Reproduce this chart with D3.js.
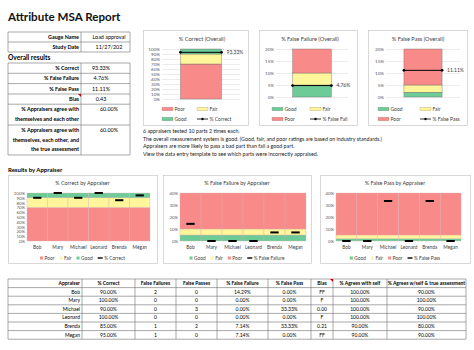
<!DOCTYPE html>
<html>
<head>
<meta charset="utf-8">
<script src="https://cdn.jsdelivr.net/npm/d3@7"></script>
<style>
  body { margin: 0; background: #fff; }
  svg { display: block; font-family: Lato, "Open Sans", sans-serif; }
</style>
</head>
<body>
<div id="report"></div>
<script>
// ---- data ----
const gaugeLabels = ["Gauge Name", "Study Date"];
const gaugeValues = ["Load approval", "11/27/202"];

const overallLabels = [
  ["% Correct"], ["% False Failure"], ["% False Pass"], ["Bias"],
  ["% Appraisers agree with", "themselves and each other"],
  ["% Appraisers agree with", "themselves, each other, and", "the true assessment"]
];
const overallValues = ["93.33%", "4.76%", "11.11%", "0.43", "60.00%", "60.00%"];

const overallCorrect = 93.33;
const overallFalseFail = 4.76;
const overallFalsePass = 11.11;

// rating bands [rating, from, to]
const correctBands = [["Poor", 0, 70], ["Fair", 70, 90], ["Good", 90, 100]];
const falseFailBands = [["Good", 0, 5], ["Fair", 5, 10], ["Poor", 10, 20]];
const falsePassBands = [["Good", 0, 2], ["Fair", 2, 5], ["Poor", 5, 20]];
const falseFailBandsApp = [["Good", 0, 5], ["Fair", 5, 10], ["Poor", 10, 40]];
const falsePassBandsApp = [["Good", 0, 2], ["Fair", 2, 5], ["Poor", 5, 40]];

const summaryNotes = [
  "6 appraisers tested 10 parts 2 times each.",
  "The overall measurement system is good. (Good, fair, and poor ratings are based on industry standards.)",
  "Appraisers are more likely to pass a bad part than fail a good part.",
  "View the data entry template to see which parts were incorrectly appraised."
];

const appraisers = ["Bob", "Mary", "Michael", "Leonard", "Brenda", "Megan"];
const pctCorrect = [90, 100, 90, 100, 85, 95];
const falseFailures = [2, 0, 0, 0, 1, 1];
const falsePasses = [0, 0, 3, 0, 2, 0];
const pctFalseFailure = [14.29, 0, 0, 0, 7.14, 7.14];
const pctFalsePass = [0, 0, 33.33, 0, 33.33, 0];
const biasValues = ["FF", "F", "0.00", "F", "0.21", "FF"];
const agreeSelf = [100, 100, 100, 100, 90, 90];
const agreeTrue = [90, 100, 90, 100, 80, 90];

const tableHeaders = ["Appraiser", "% Correct", "False Failures", "False Passes", "% False Failure",
  "% False Pass", "Bias", "% Agrees with self", "% Agrees w/self & true assessment"];

const colors = { Poor: "#F98A8A", Fair: "#FFF59A", Good: "#6DCB98" };
const pct = v => d3.format(".2f")(v) + "%";

const svg = d3.select("#report").append("svg")
  .attr("width", 474).attr("height", 350);
svg.append("rect").attr("width", 474).attr("height", 350).attr("fill", "#fff");

// ---- header + summary tables ----
svg.append("text").attr("x", 8).attr("y", 21)
  .attr("font-size", 11.6).attr("font-weight", "bold").attr("fill", "#111")
  .text("Attribute MSA Report");

function gridTable(x0, x1, xs, ys) {
  const g = svg.append("g").attr("stroke", "#6e6e6e").attr("stroke-width", 0.6);
  ys.forEach(y => g.append("line").attr("x1", x0).attr("x2", x1).attr("y1", y).attr("y2", y));
  xs.forEach(x => g.append("line").attr("x1", x).attr("x2", x).attr("y1", ys[0]).attr("y2", ys[ys.length - 1]));
}

gridTable(8, 130, [8, 81, 130], [32, 42, 52]);
gaugeLabels.forEach((t, i) => {
  svg.append("text").attr("x", 79).attr("y", 39 + i * 10).attr("text-anchor", "end")
    .attr("font-size", 5.4).attr("font-weight", "bold").text(t);
  svg.append("text").attr("x", 109).attr("y", 39 + i * 10).attr("text-anchor", "middle")
    .attr("font-size", 5.4).text(gaugeValues[i]);
});

svg.append("text").attr("x", 8).attr("y", 59.5)
  .attr("font-size", 6.6).attr("font-weight", "bold").text("Overall results");

const rowTops = [63, 73.3, 83.6, 94, 104.2, 125, 155];
gridTable(8, 130, [8, 81, 130], rowTops);
overallLabels.forEach((lines, i) => {
  lines.forEach((t, j) => {
    svg.append("text").attr("x", 79).attr("y", rowTops[i] + 7 + j * 9.5).attr("text-anchor", "end")
      .attr("font-size", 5.4).attr("font-weight", "bold").text(t);
  });
  svg.append("text").attr("x", i < 4 ? 101 : 109).attr("y", rowTops[i] + 7).attr("text-anchor", "middle")
    .attr("font-size", 5.4).text(overallValues[i]);
});
svg.append("path").attr("d", "M78,94 L81,94 L81,97 Z").attr("fill", "#c00000");

// ---- overall charts ----
function overallChart(o) {
  const g = svg.append("g");
  g.append("rect").attr("x", o.box[0] + 0.5).attr("y", o.box[1] + 0.5)
    .attr("width", o.box[2] - o.box[0]).attr("height", o.box[3] - o.box[1])
    .attr("fill", "#fff").attr("stroke", "#cfcfcf").attr("stroke-width", 0.8);
  g.append("text").attr("x", o.titleX).attr("y", 41).attr("text-anchor", "middle")
    .attr("font-size", 5.6).attr("fill", "#404040").text(o.title);

  const y = d3.scaleLinear().domain([0, o.max]).range([o.yBot, o.yTop]);
  const x = d3.scaleBand().domain(["overall"]).range([o.x0, o.x1]).padding(o.pad);

  g.append("g").attr("transform", `translate(${o.x0},0)`)
    .call(d3.axisLeft(y).tickValues(d3.range(0, o.max + o.step / 2, o.step))
      .tickSize(-(o.x1 - o.x0)).tickPadding(2).tickFormat(d => d + "%"))
    .call(a => {
      a.attr("font-size", 4.6).attr("font-family", null);
      a.select(".domain").remove();
      a.selectAll("line").attr("stroke", "#d9d9d9").attr("stroke-width", 0.5);
      a.selectAll("text").attr("fill", "#595959");
    });

  g.selectAll(".band").data(o.bands).join("rect")
    .attr("x", x("overall")).attr("width", x.bandwidth())
    .attr("y", d => y(d[2])).attr("height", d => y(d[1]) - y(d[2]))
    .attr("fill", d => colors[d[0]]).attr("stroke", "#6b6b6b").attr("stroke-width", 0.4);

  const vy = y(o.value);
  const ends = [x("overall"), x("overall") + x.bandwidth()];
  g.append("line").attr("x1", ends[0]).attr("x2", ends[1]).attr("y1", vy).attr("y2", vy)
    .attr("stroke", "#000").attr("stroke-width", 1);
  g.selectAll(".mk").data(ends).join("circle").attr("cx", d => d).attr("cy", vy)
    .attr("r", 1.4).attr("fill", "#000");
  g.append("text").attr("x", ends[1] + 5).attr("y", vy + 1.8)
    .attr("font-size", 5).attr("fill", "#404040").text(pct(o.value));

  // legend 2 x 2
  o.legend.forEach((name, i) => {
    const lx = o.legendX[i % 2], ly = [109, 119][Math.floor(i / 2)];
    if (colors[name]) {
      g.append("rect").attr("x", lx).attr("y", ly - 1.8).attr("width", 11).attr("height", 3.6)
        .attr("fill", colors[name]).attr("stroke", "#8a8a8a").attr("stroke-width", 0.3);
    } else {
      g.append("line").attr("x1", lx).attr("x2", lx + 11).attr("y1", ly).attr("y2", ly)
        .attr("stroke", "#000").attr("stroke-width", 0.8);
      g.append("circle").attr("cx", lx + 5.5).attr("cy", ly).attr("r", 1.2).attr("fill", "#000");
    }
    g.append("text").attr("x", lx + 12.5).attr("y", ly + 1.8)
      .attr("font-size", 5).attr("fill", "#404040").text(name);
  });
}

overallChart({
  box: [143, 30, 248, 125], title: "% Correct (Overall)", titleX: 202,
  x0: 162, x1: 240, yTop: 49, yBot: 99, max: 100, step: 10, pad: 0.31,
  bands: correctBands, value: overallCorrect,
  legend: ["Poor", "Fair", "Good", "% Correct"], legendX: [162, 197]
});
overallChart({
  box: [259, 30, 357, 125], title: "% False Failure (Overall)", titleX: 310,
  x0: 276, x1: 348, yTop: 49, yBot: 97, max: 20, step: 5, pad: 0.3,
  bands: falseFailBands, value: overallFalseFail,
  legend: ["Good", "Fair", "Poor", "% False Fail"], legendX: [272, 310]
});
overallChart({
  box: [368, 30, 467, 125], title: "% False Pass (Overall)", titleX: 418,
  x0: 386, x1: 460, yTop: 49, yBot: 97, max: 20, step: 5, pad: 0.32,
  bands: falsePassBands, value: overallFalsePass,
  legend: ["Good", "Fair", "Poor", "% False Pass"], legendX: [378, 420]
});

// summary notes
summaryNotes.forEach((t, i) => {
  svg.append("text").attr("x", 143).attr("y", 133 + i * 7.6)
    .attr("font-size", 5.3).attr("fill", "#222").text(t);
});

// ---- by appraiser charts ----
svg.append("text").attr("x", 8).attr("y", 172)
  .attr("font-size", 6).attr("font-weight", "bold").text("Results by Appraiser");

function appraiserChart(o) {
  const g = svg.append("g");
  g.append("rect").attr("x", o.box[0] + 0.5).attr("y", o.box[1] + 0.5)
    .attr("width", o.box[2] - o.box[0]).attr("height", o.box[3] - o.box[1])
    .attr("fill", "#fff").attr("stroke", "#cfcfcf").attr("stroke-width", 0.8);
  g.append("text").attr("x", (o.box[0] + o.box[2]) / 2).attr("y", 185).attr("text-anchor", "middle")
    .attr("font-size", 5.4).attr("fill", "#404040").text(o.title);

  const y = d3.scaleLinear().domain([0, o.max]).range([241, 193]);
  const x = d3.scaleBand().domain(appraisers).range([o.x0, o.x1]).padding(0);

  const cells = appraisers.flatMap(a => o.bands.map(b => ({ a, b })));
  g.selectAll(".cell").data(cells).join("rect")
    .attr("x", d => x(d.a)).attr("width", x.bandwidth())
    .attr("y", d => y(d.b[2])).attr("height", d => y(d.b[1]) - y(d.b[2]))
    .attr("fill", d => colors[d.b[0]]).attr("stroke", "#d7b0b0").attr("stroke-width", 0.35);

  g.selectAll(".mark").data(o.values).join("rect")
    .attr("x", (d, i) => x(appraisers[i]) + x.bandwidth() * 0.3)
    .attr("width", x.bandwidth() * 0.4)
    .attr("y", d => y(d) - 1).attr("height", 2).attr("fill", "#000");

  g.append("g").attr("transform", `translate(${o.x0},0)`)
    .call(d3.axisLeft(y).tickValues(d3.range(0, o.max + o.step / 2, o.step))
      .tickSize(0).tickPadding(2).tickFormat(d => d + "%"))
    .call(a => {
      a.attr("font-size", 4.4).attr("font-family", null);
      a.select(".domain").remove();
      a.selectAll("text").attr("fill", "#595959");
    });
  g.append("g").attr("transform", "translate(0,241)")
    .call(d3.axisBottom(x).tickSize(0).tickPadding(4.5))
    .call(a => {
      a.attr("font-size", 4.8).attr("font-family", null);
      a.select(".domain").remove();
      a.selectAll("text").attr("fill", "#404040");
    });

  // legend, centred in the box
  const lg = g.append("g");
  let cx = 0;
  o.legend.forEach(name => {
    if (colors[name]) {
      lg.append("rect").attr("x", cx).attr("y", -1.5).attr("width", 3).attr("height", 3).attr("fill", colors[name]);
      cx += 4.5;
    } else {
      lg.append("line").attr("x1", cx).attr("x2", cx + 5).attr("y1", 0).attr("y2", 0)
        .attr("stroke", "#000").attr("stroke-width", 1.4);
      cx += 6.5;
    }
    const t = lg.append("text").attr("x", cx).attr("y", 1.7)
      .attr("font-size", 4.8).attr("fill", "#404040").text(name);
    cx += t.node().getComputedTextLength() + 5;
  });
  cx -= 5;
  lg.attr("transform", `translate(${(o.box[0] + o.box[2]) / 2 - cx / 2},258)`);
}

appraiserChart({
  box: [8, 175, 157, 263], title: "% Correct by Appraiser", x0: 27, x1: 150,
  max: 100, step: 10, bands: correctBands, values: pctCorrect,
  legend: ["Poor", "Fair", "Good", "% Correct"]
});
appraiserChart({
  box: [163, 175, 311, 263], title: "% False Failure by Appraiser", x0: 180, x1: 306,
  max: 40, step: 10, bands: falseFailBandsApp, values: pctFalseFailure,
  legend: ["Good", "Fair", "Poor", "% False Failure"]
});
appraiserChart({
  box: [320, 175, 470, 263], title: "% False Pass by Appraiser", x0: 336, x1: 461,
  max: 40, step: 10, bands: falsePassBandsApp, values: pctFalsePass,
  legend: ["Good", "Fair", "Poor", "% False Pass"]
});

// ---- appraiser table ----
const colX = [8, 82, 135, 176, 217, 268, 311, 333, 387, 466];
const rowH = 8.6;
const tRows = d3.range(appraisers.length + 2).map(i => 279 + i * rowH);
gridTable(8, 466, colX, tRows);
tableHeaders.forEach((h, c) => {
  svg.append("text")
    .attr("x", c === 0 ? colX[1] - 2 : (colX[c] + colX[c + 1]) / 2)
    .attr("y", 279 + 5.9).attr("text-anchor", c === 0 ? "end" : "middle")
    .attr("font-size", 5).attr("font-weight", "bold").text(h);
});
appraisers.forEach((a, i) => {
  const cellsText = [a, pct(pctCorrect[i]), falseFailures[i], falsePasses[i], pct(pctFalseFailure[i]),
    pct(pctFalsePass[i]), biasValues[i], pct(agreeSelf[i]), pct(agreeTrue[i])];
  cellsText.forEach((v, c) => {
    svg.append("text")
      .attr("x", c === 0 ? colX[1] - 2 : (colX[c] + colX[c + 1]) / 2)
      .attr("y", tRows[i + 1] + 5.9).attr("text-anchor", c === 0 ? "end" : "middle")
      .attr("font-size", 5).text(v);
  });
});
svg.append("path").attr("d", "M330,279 L333,279 L333,282 Z").attr("fill", "#c00000");
</script>
</body>
</html>
